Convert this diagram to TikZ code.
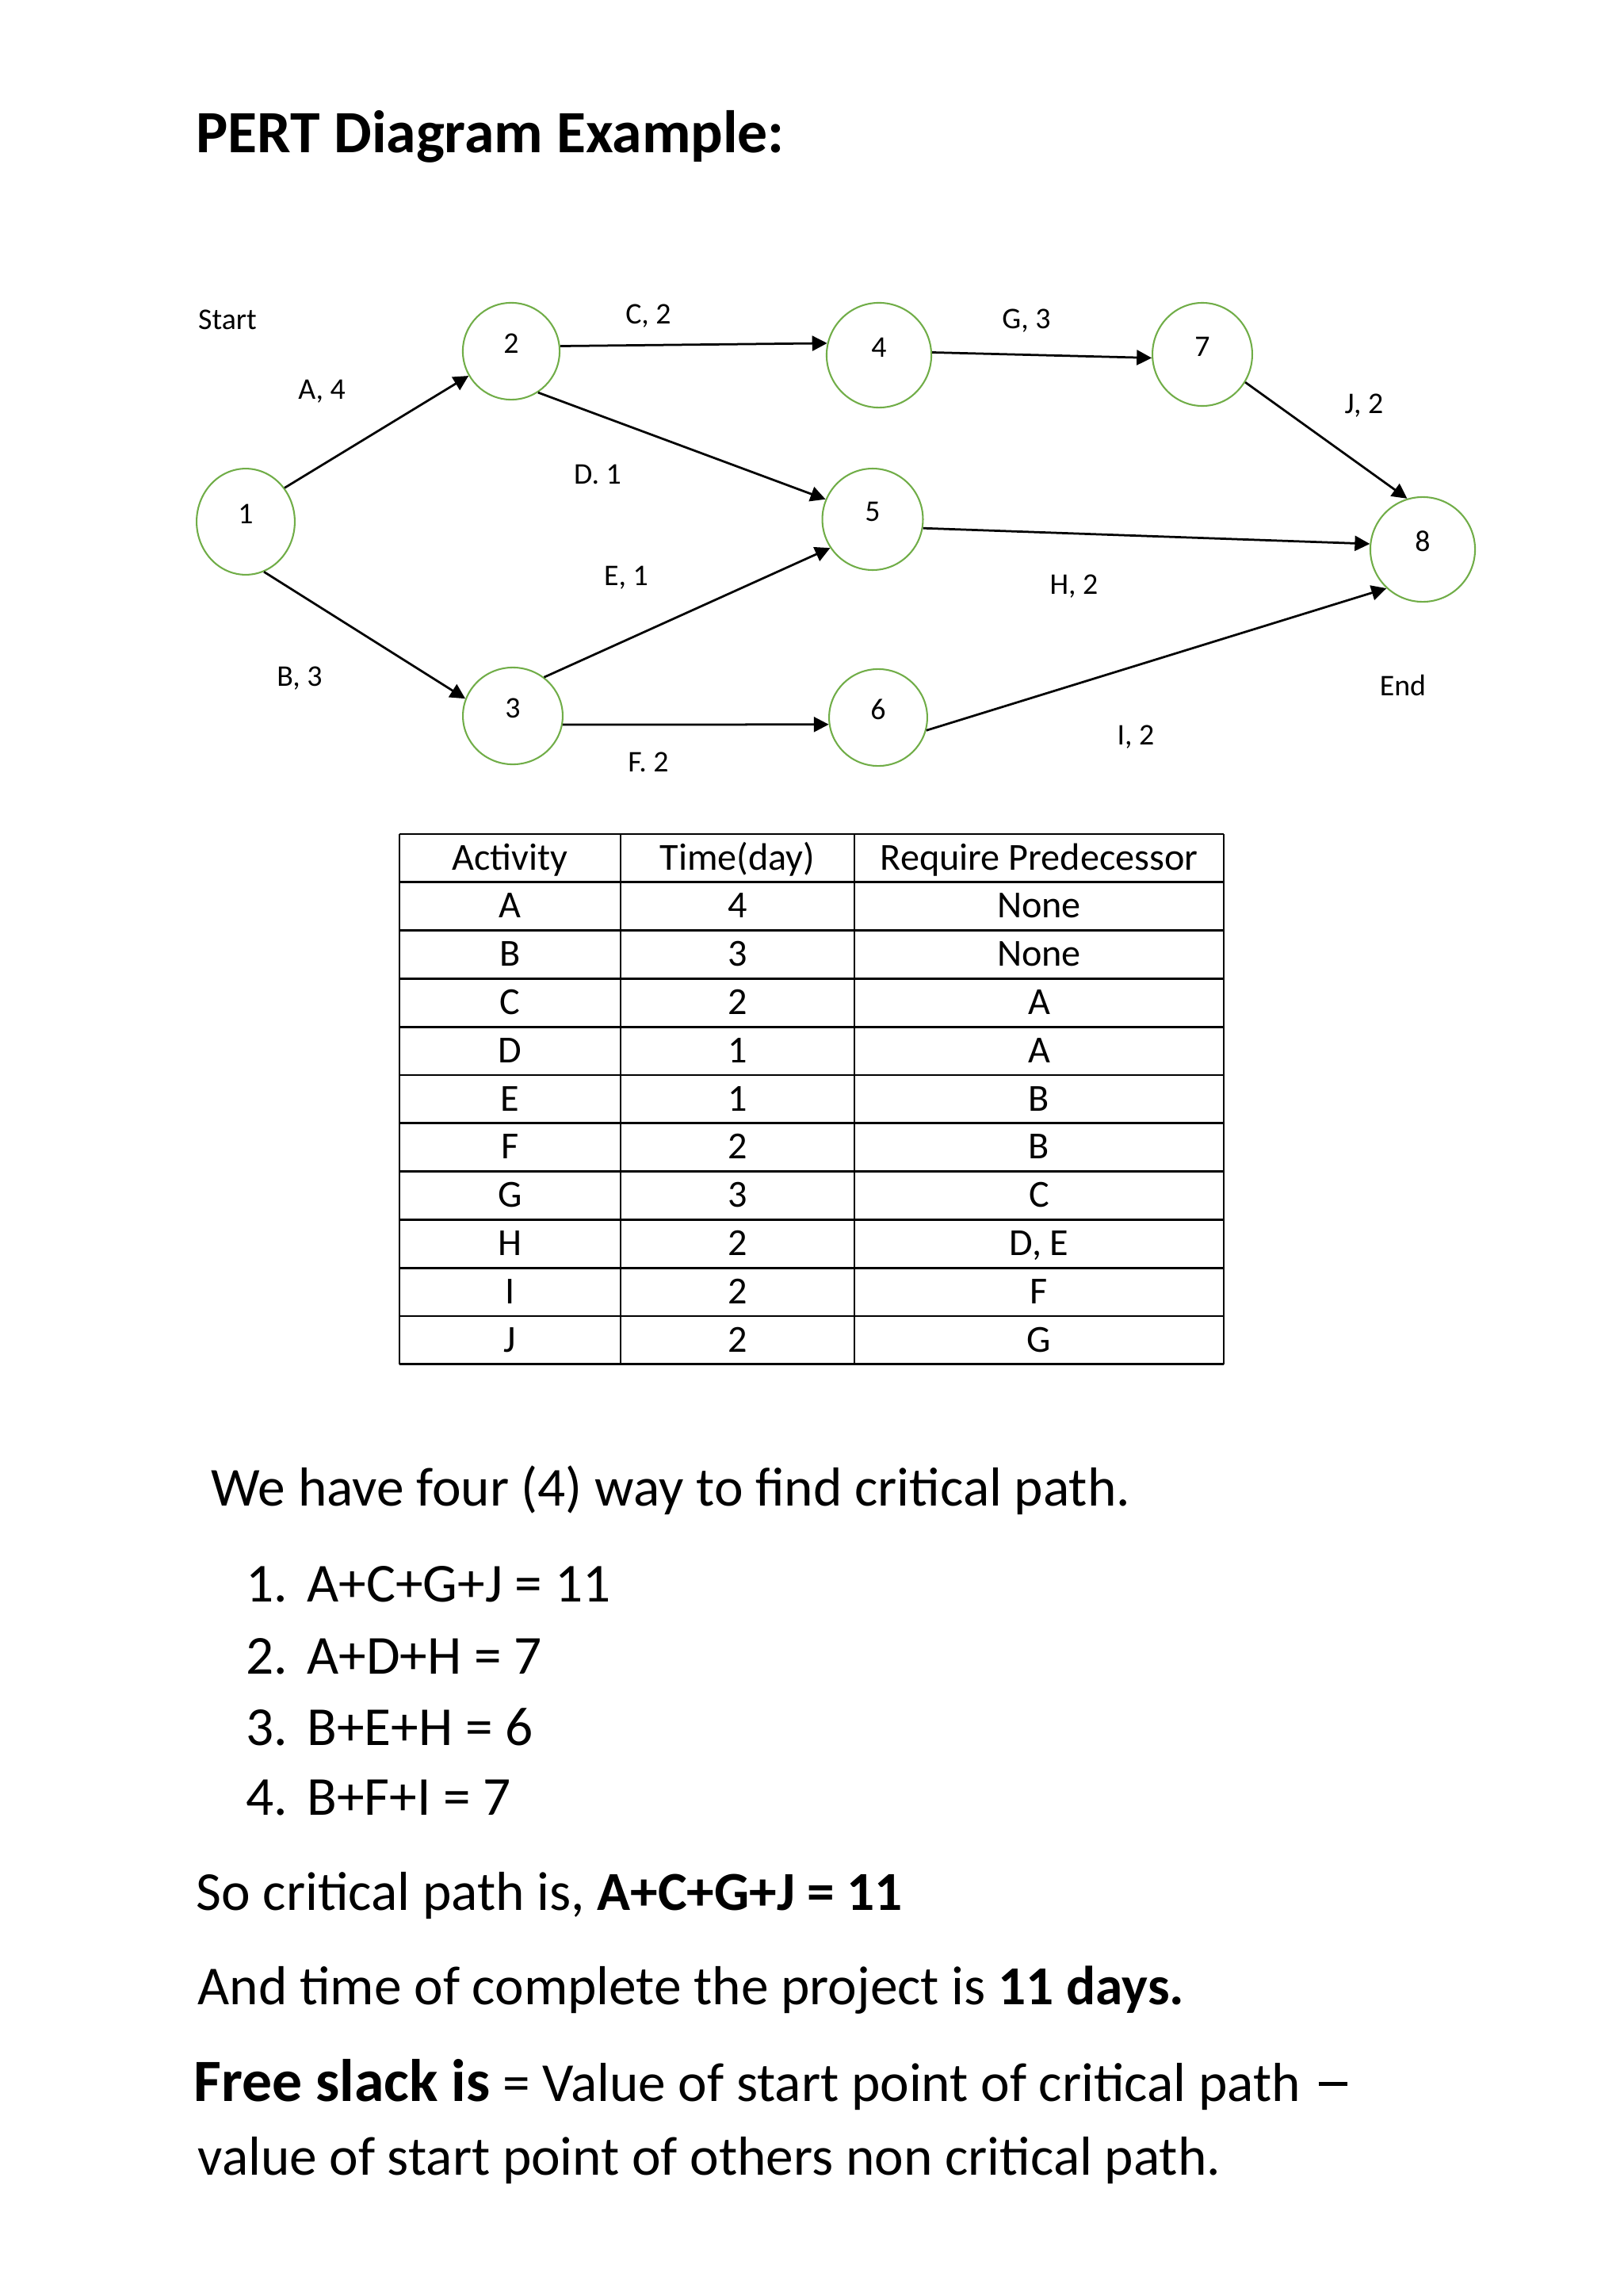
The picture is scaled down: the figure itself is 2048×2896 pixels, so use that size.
\documentclass[tikz,border=0pt]{standalone}
\usepackage{fontspec}
\setmainfont{Carlito}
\usetikzlibrary{arrows.meta,shapes.geometric}
\definecolor{nodegreen}{HTML}{70AD47}
\begin{document}
\begin{tikzpicture}[x=0.29066pt,y=-0.29066pt,
  evt/.style={ellipse,draw=nodegreen,line width=0.6pt,inner sep=0pt,text height=7.5pt,text depth=6pt,font=\fontsize{11}{13}\selectfont},
  act/.style={draw=black,line width=0.8pt,-{Triangle[length=5.5pt,width=5.5pt]}},
  lbl/.style={anchor=base,inner sep=0pt,font=\fontsize{11}{13}\selectfont},
  cell/.style={anchor=base,inner sep=0pt,font=\fontsize{14}{16}\selectfont},
  tbl/.style={draw=black,line width=0.8pt},
  body/.style={anchor=base west,inner sep=0pt,font=\fontsize{20.15}{24}\selectfont},
]
\useasboundingbox[fill=white] (0,0) rectangle (2048,2896);

% title
\node[anchor=base west,inner sep=0pt,font=\fontsize{22}{26}\selectfont\bfseries] (title) at (247,192) {PERT Diagram Example:};

% events
\node[evt,minimum width=36pt,minimum height=38.9pt] (n1) at (310,658) {1};
\node[evt,minimum width=35.5pt,minimum height=35.5pt] (n2) at (645,443) {2};
\node[evt,minimum width=36.6pt,minimum height=35.5pt] (n3) at (647,903) {3};
\node[evt,minimum width=38.4pt,minimum height=38.4pt] (n4) at (1109,448) {4};
\node[evt,minimum width=36.9pt,minimum height=37.2pt] (n5) at (1101,655) {5};
\node[evt,minimum width=36pt,minimum height=35.5pt] (n6) at (1108,905) {6};
\node[evt,minimum width=36.6pt,minimum height=37.8pt] (n7) at (1517,447) {7};
\node[evt,minimum width=38.4pt,minimum height=38.4pt] (n8) at (1795,693) {8};

% activities
\draw[act] (n1.41) -- (n2.210);
\draw[act] (n1.290) -- (n3.160);
\draw[act] (n2.6) -- (n4.167);
\draw[act] (n2.303) -- (n5.157);
\draw[act] (n3.51) -- (n5.214);
\draw[act] (n3.350) -- (n6.188);
\draw[act] (n4.3.5) -- (n7.184);
\draw[act] (n5.350) -- (n8.174);
\draw[act] (n6.345) -- (n8.227);
\draw[act] (n7.327) -- (n8.107);

% labels
\node[lbl] (start) at (287,415) {Start};
\node[lbl] (end) at (1770,877) {End};
\node[lbl] (la) at (406,503) {A, 4};
\node[lbl] (lb) at (378,865) {B, 3};
\node[lbl] (lc) at (818,408) {C, 2};
\node[lbl] (ld) at (754,610) {D. 1};
\node[lbl] (le) at (790,738) {E, 1};
\node[lbl] (lf) at (818,973) {F. 2};
\node[lbl] (lg) at (1295,414) {G, 3};
\node[lbl] (lh) at (1355,749) {H, 2};
\node[lbl] (li) at (1433,939) {I, 2};
\node[lbl] (lj) at (1721,521) {J, 2};

% table
\foreach \r in {0,...,11}
  \draw[tbl] (504,{1052+60.8*\r}) -- (1544,{1052+60.8*\r});
\foreach \c in {504,783,1078,1544}
  \draw[tbl] (\c,1052) -- (\c,1720.8);
\foreach \a/\t/\p [count=\i from 0] in {Activity/Time(day)/Require Predecessor,
    A/4/None, B/3/None, C/2/A, D/1/A, E/1/B, F/2/B, G/3/C, H/2/{D, E}, I/2/F, J/2/G}{
  \node[cell] (ca\i) at (643.5,{1097+60.8*\i}) {\a};
  \node[cell] (ct\i) at (930.5,{1097+60.8*\i}) {\t};
  \node[cell] (cp\i) at (1311,{1097+60.8*\i}) {\p};
}

% text
\node[body] (p1) at (266,1899) {We have four (4) way to find critical path.};
\node[body] (l1n) at (310,2020) {1.};
\node[body] (l1) at (387,2020) {A+C+G+J = 11};
\node[body] (l2n) at (310,2111) {2.};
\node[body] (l2) at (387,2111) {A+D+H = 7};
\node[body] (l3n) at (310,2201) {3.};
\node[body] (l3) at (387,2201) {B+E+H = 6};
\node[body] (l4n) at (310,2289) {4.};
\node[body] (l4) at (387,2289) {B+F+I = 7};
\node[body] (p2) at (247,2409) {So critical path is, \textbf{A+C+G+J = 11}};
\node[body] (p3) at (249,2528) {And time of complete the project is \textbf{11 days.}};
\node[body] (p4) at (244,2650) {{\fontsize{22}{26}\selectfont\bfseries Free slack is} = Value of start point of critical path\hspace{6.5pt}\rule[5.5pt]{10.4pt}{1.5pt}};
\node[body] (p5) at (249,2743) {value of start point of others non critical path.};
\end{tikzpicture}
\end{document}
